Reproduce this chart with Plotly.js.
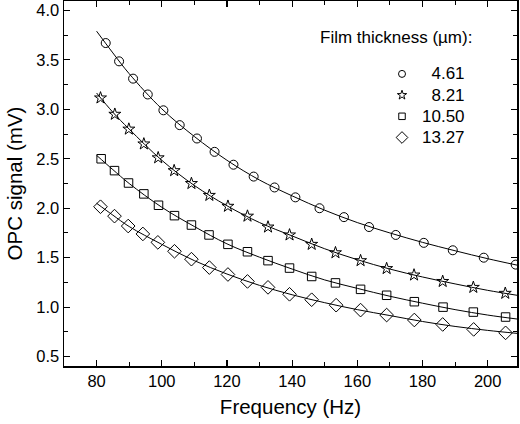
<!DOCTYPE html>
<html>
<head>
<meta charset="utf-8">
<script src="https://cdn.plot.ly/plotly-3.0.1.min.js"></script>
<style>html,body{margin:0;padding:0;background:#fff;}#chart{width:520px;height:424px;}</style>
</head>
<body>
<div id="chart"></div>
<script>
// Series labels (film thickness, µm)
const seriesNames = ["4.61", "8.21", "10.50", "13.27"];
const legendTitle = "Film thickness (µm):";

// Measured points, 4.61 µm (circles)
const freqA = [82.8, 86.9, 91.2, 95.7, 100.5, 105.5, 110.8, 116.2, 122.0, 128.2, 134.6, 141.0, 148.4, 155.9, 163.6, 171.8, 180.4, 189.3, 198.8, 208.6];
const sigA  = [3.67, 3.485, 3.31, 3.15, 2.99, 2.84, 2.705, 2.57, 2.44, 2.32, 2.21, 2.11, 2.00, 1.91, 1.81, 1.73, 1.65, 1.575, 1.50, 1.43];

// 8.21 µm (stars)
const freqB = [81.2, 85.6, 89.9, 94.5, 98.9, 103.8, 109.1, 114.6, 120.3, 126.3, 132.6, 139.2, 146.0, 153.3, 161.0, 169.0, 177.4, 186.2, 195.6, 205.4];
const sigB  = [3.115, 2.95, 2.80, 2.65, 2.51, 2.38, 2.25, 2.13, 2.02, 1.92, 1.81, 1.73, 1.635, 1.55, 1.47, 1.39, 1.325, 1.26, 1.20, 1.14];

// 10.50 µm (squares)
const freqC = [81.4, 85.5, 89.8, 94.5, 99.0, 103.9, 109.1, 114.5, 120.3, 126.3, 132.6, 139.2, 146.0, 153.3, 161.0, 169.0, 177.5, 186.3, 195.6, 205.5];
const sigC  = [2.50, 2.38, 2.255, 2.145, 2.03, 1.925, 1.83, 1.73, 1.635, 1.56, 1.47, 1.395, 1.31, 1.245, 1.18, 1.12, 1.055, 1.00, 0.95, 0.90];

// 13.27 µm (diamonds)
const freqD = [81.2, 85.5, 89.7, 94.2, 98.8, 103.9, 109.1, 114.6, 120.3, 126.3, 132.6, 139.2, 146.0, 153.5, 161.0, 169.0, 177.5, 186.2, 195.7, 205.5];
const sigD  = [2.015, 1.92, 1.82, 1.74, 1.655, 1.565, 1.485, 1.40, 1.33, 1.26, 1.20, 1.13, 1.075, 1.02, 0.97, 0.92, 0.87, 0.825, 0.775, 0.74];

// Fitted curves
const fitFreq = [80, 85, 90, 100, 110, 120, 130, 140, 150, 160, 170, 180, 190, 200, 209];
const fitA = [3.79, 3.57, 3.36, 3.005, 2.725, 2.485, 2.285, 2.125, 1.98, 1.855, 1.75, 1.655, 1.57, 1.49, 1.425];
const fitB = [3.165, 2.97, 2.80, 2.485, 2.23, 2.025, 1.855, 1.72, 1.59, 1.48, 1.385, 1.305, 1.235, 1.17, 1.12];
const fitC = [2.535, 2.39, 2.25, 2.01, 1.815, 1.64, 1.505, 1.385, 1.275, 1.19, 1.11, 1.04, 0.975, 0.92, 0.88];
const fitD = [2.05, 1.93, 1.815, 1.635, 1.47, 1.335, 1.22, 1.125, 1.045, 0.975, 0.915, 0.855, 0.805, 0.765, 0.735];

// Axis tick values
const xTicks = [80, 100, 120, 140, 160, 180, 200];
const yTicks = [0.5, 1.0, 1.5, 2.0, 2.5, 3.0, 3.5, 4.0];

const FONT = "Liberation Sans, Arial, sans-serif";
const symbols = ["circle-open", "star-open", "square-open", "diamond-open"];
const sizes = [9, 9, 8.5, 10.5];
const legendSizes = [7, 7, 6.5, 9];
const freqs = [freqA, freqB, freqC, freqD];
const sigs = [sigA, sigB, sigC, sigD];
const fits = [fitA, fitB, fitC, fitD];

const traces = [];
for (let i = 0; i < 4; i++) {
  traces.push({
    x: fitFreq, y: fits[i], mode: "lines", type: "scatter",
    line: {color: "#000", width: 1, shape: "spline"},
    showlegend: false, hoverinfo: "skip"
  });
  traces.push({
    x: freqs[i], y: sigs[i], mode: "markers", type: "scatter",
    marker: {symbol: symbols[i], size: sizes[i], color: "#000", line: {color: "#000", width: 1}},
    showlegend: false
  });
}
// legend-only entries (smaller symbols, no data)
const pad = ["\u2007", "\u2007", "", ""];
for (let i = 0; i < 4; i++) {
  traces.push({
    x: [null], y: [null], mode: "markers", type: "scatter",
    name: '<span style="font-size:17px">' + pad[i] + seriesNames[i] + '</span>',
    marker: {symbol: symbols[i], size: legendSizes[i], color: "#000", line: {color: "#000", width: 1}},
    showlegend: true
  });
}

const axisCommon = {
  showline: true, linecolor: "#000", linewidth: 1.5, mirror: "ticks",
  ticks: "inside", ticklen: 6, tickwidth: 1.2, tickcolor: "#000",
  showgrid: false, zeroline: false,
  tickfont: {family: FONT, size: 16.5, color: "#000"}
};

const layout = {
  width: 520, height: 424,
  margin: {l: 64, r: 3, t: 1, b: 58},
  paper_bgcolor: "#fff", plot_bgcolor: "#fff",
  font: {family: FONT, color: "#000"},
  xaxis: Object.assign({}, axisCommon, {
    range: [70, 209], tickvals: xTicks,
    minor: {dtick: 10, ticks: "inside", ticklen: 4, tickcolor: "#000", tickwidth: 1},
    title: {text: "Frequency (Hz)", font: {family: FONT, size: 20.5, color: "#000"}, standoff: 10}
  }),
  yaxis: Object.assign({}, axisCommon, {
    range: [0.405, 4.095], tickvals: yTicks, tickformat: ".1f",
    minor: {dtick: 0.25, ticks: "inside", ticklen: 4, tickcolor: "#000", tickwidth: 1},
    title: {text: "OPC signal (mV)", font: {family: FONT, size: 20.5, color: "#000"}, standoff: 8}
  }),
  legend: {
    x: 0.702, y: 0.843, xanchor: "left", yanchor: "top",
    bgcolor: "rgba(0,0,0,0)", borderwidth: 0,
    font: {family: FONT, size: 14, color: "#000"},
    tracegroupgap: 0
  },
  annotations: [{
    xref: "paper", yref: "paper", x: 0.56, y: 0.899, xanchor: "left", yanchor: "middle",
    text: legendTitle, showarrow: false,
    font: {family: FONT, size: 17, color: "#000"}
  }]
};

Plotly.newPlot("chart", traces, layout, {displayModeBar: false, staticPlot: true});
</script>
</body>
</html>
